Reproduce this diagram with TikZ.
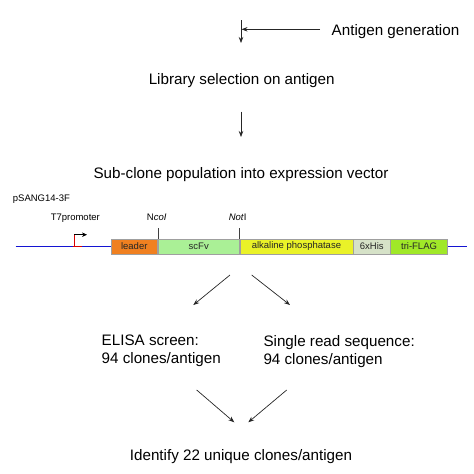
\documentclass[tikz,border=0pt]{standalone}
\usepackage{fontspec}
\setmainfont{Liberation Sans}
\usetikzlibrary{arrows.meta}
\definecolor{cleader}{RGB}{240,128,32}
\definecolor{cscfv}{RGB}{170,240,150}
\definecolor{cap}{RGB}{234,242,40}
\definecolor{chis}{RGB}{214,226,200}
\definecolor{cflag}{RGB}{160,232,40}
\definecolor{cblue}{RGB}{20,20,210}
\begin{document}
\begin{tikzpicture}[x=1pt,y=-1pt,
  big/.style={font=\fontsize{15.2}{18}\selectfont, inner sep=0pt},
  small/.style={font=\fontsize{9.5}{11}\selectfont, inner sep=0pt},
  arr/.style={-{Stealth[length=6pt,width=4.5pt]}, line width=0.7pt, black!85},
  seg/.style={draw=gray!75, line width=0.5pt, minimum height=15pt, inner sep=0pt,
              font=\fontsize{9.5}{11}\selectfont, anchor=west, text=black!85},
  tick/.style={line width=0.6pt, black!75},
]
\useasboundingbox (0,0) rectangle (474,474);

% texts
\node[big, anchor=base] (ag) at (395.5,35) {Antigen generation};
\node[big, anchor=base] (lib) at (241.7,84.5) {Library selection on antigen};
\node[big, anchor=base] (sub) at (241,178) {Sub-clone population into expression vector};
\node[small, anchor=base west] (vec) at (12.7,201.5) {pSANG14-3F};
\node[small, anchor=base] (t7) at (75.3,220.5) {T7promoter};
\node[small, anchor=base] (nco) at (156.7,220.5) {N\textit{coI}};
\node[small, anchor=base] (not) at (237.7,220.5) {\textit{Not}I};
\node[big, anchor=north west, align=left] (elisa) at (101.5,335.1) {ELISA screen:\\94 clones/antigen};
\node[big, anchor=north west, align=left] (seq) at (263.3,335.1) {Single read sequence:\\94 clones/antigen};
\node[big, anchor=base] (id) at (241,460.7) {Identify 22 unique clones/antigen};

% vector line
\coordinate (vl) at (15.7,246.5);
\coordinate (vr) at (466.7,246.5);
\draw[cblue, line width=1pt] (vl) -- (vr);

% segments
\node[seg, fill=cleader, minimum width=46.6pt] (leader) at (110.7,246.5) {leader};
\node[seg, fill=cscfv, minimum width=81.4pt] (scfv) at (leader.east) {scFv};
\node[seg, fill=cap, minimum width=113pt] (ap) at (scfv.east) {alkaline phosphatase};
\node[seg, fill=chis, minimum width=36.6pt] (his) at (ap.east) {6xHis};
\node[seg, fill=cflag, minimum width=57pt] (flag) at (his.east) {tri-FLAG};

% restriction sites
\draw[tick] (leader.north east) -- ++(0,-11);
\draw[tick] (scfv.north east) -- ++(0,-11);

% promoter
\coordinate (pr1) at (72.7,246.5);
\coordinate (pr2) at (81.7,246.5);
\coordinate (pb) at (74,246.5);
\coordinate (pt) at (74,234.7);
\coordinate (ph) at (87,234.7);
\draw[red!85!black, line width=1pt] (pr1) -- (pr2);
\draw[red!85!black, line width=0.6pt] (pb) -- (pt);
\draw[line width=0.6pt, -{Stealth[length=5pt,width=4.5pt]}] (pt) -- (ph);

% arrows
\coordinate (a1s) at (241,20);
\coordinate (a1e) at (241,43);
\coordinate (a1m) at (241.5,29.3);
\coordinate (a1h) at (320,29.3);
\draw[arr] (a1s) -- (a1e);
\draw[arr] (a1h) -- (a1m);

\coordinate (a2s) at (241,111.7);
\coordinate (a2e) at (241,137);
\draw[arr] (a2s) -- (a2e);

\coordinate (a3s) at (230,275);
\coordinate (a3e) at (193.3,305);
\coordinate (a4s) at (251.7,275);
\coordinate (a4e) at (290,305);
\draw[arr] (a3s) -- (a3e);
\draw[arr] (a4s) -- (a4e);

\coordinate (a5s) at (196.7,390);
\coordinate (a5e) at (234.3,422.3);
\coordinate (a6s) at (286.7,390);
\coordinate (a6e) at (248.3,422.3);
\draw[arr] (a5s) -- (a5e);
\draw[arr] (a6s) -- (a6e);
\end{tikzpicture}
\end{document}
